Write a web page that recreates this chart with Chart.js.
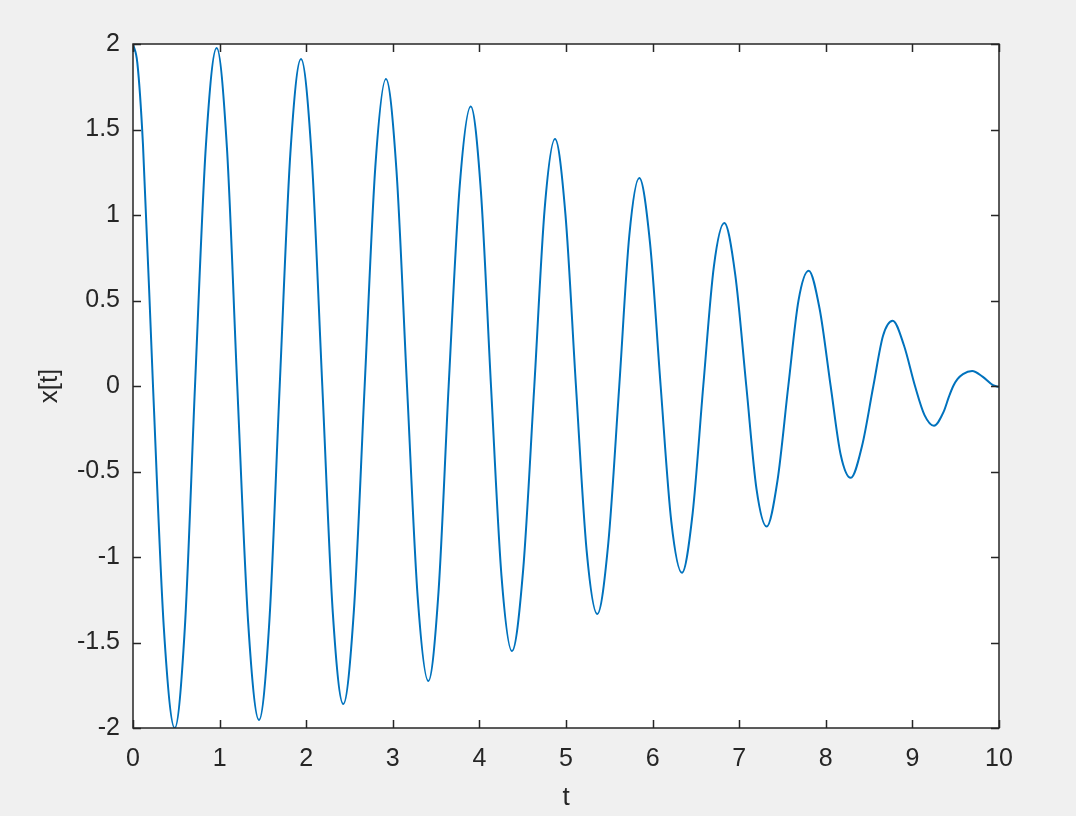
<!DOCTYPE html>
<html>
<head>
<meta charset="utf-8">
<script src="https://cdn.jsdelivr.net/npm/chart.js@4/dist/chart.umd.min.js"></script>
<style>
html,body{margin:0;padding:0;background:#f0f0f0;}
#wrap{width:1076px;height:816px;}
</style>
</head>
<body>
<div id="wrap"><canvas id="c" width="1076" height="816"></canvas></div>
<script>
// Values: extrema, zero crossings and shoulder points of x[t]
const tValues = [
  0, 0.05, 0.115, 0.231, 0.356, 0.482, 0.599, 0.716, 0.841, 0.966,
  1.085, 1.204, 1.330, 1.455, 1.575, 1.694, 1.817, 1.940, 2.063, 2.186,
  2.307, 2.428, 2.552, 2.675, 2.798, 2.921, 3.043, 3.164, 3.287, 3.410,
  3.528, 3.645, 3.773, 3.900, 4.017, 4.134, 4.255, 4.376, 4.505, 4.634,
  4.754, 4.873, 4.994, 5.115, 5.238, 5.361, 5.488, 5.615, 5.731, 5.846,
  5.970, 6.093, 6.216, 6.339, 6.462, 6.585, 6.707, 6.828, 6.955, 7.082,
  7.200, 7.317, 7.442, 7.567, 7.685, 7.802, 7.929, 8.056, 8.172, 8.288,
  8.419, 8.549, 8.661, 8.773, 8.902, 9.030, 9.140, 9.249, 9.361, 9.420,
  9.472, 9.520, 9.584, 9.690, 9.810, 9.930, 10
];
const xValues = [
  2, 1.89, 1.414, 0, -1.414, -2, -1.41, 0, 1.40, 1.977,
  1.39, 0, -1.385, -1.953, -1.373, 0, 1.359, 1.912, 1.342, 0,
  -1.324, -1.86, -1.303, 0, 1.280, 1.795, 1.256, 0, -1.232, -1.725,
  -1.203, 0, 1.172, 1.635, 1.141, 0, -1.110, -1.55, -1.077, 0,
  1.039, 1.444, 1.001, 0, -0.961, -1.333, -0.921, 0, 0.880, 1.216,
  0.837, 0, -0.793, -1.092, -0.746, 0, 0.697, 0.953, 0.649, 0,
  -0.603, -0.822, -0.553, 0, 0.501, 0.674, 0.450, 0, -0.402, -0.537,
  -0.349, 0, 0.294, 0.382, 0.238, 0, -0.17, -0.232, -0.15, -0.065,
  0, 0.04, 0.07, 0.088, 0.055, 0.005, -0.005
];

const xTickValues = [0, 1, 2, 3, 4, 5, 6, 7, 8, 9, 10];
const xTickLabels = ['0', '1', '2', '3', '4', '5', '6', '7', '8', '9', '10'];
const yTickValues = [-2, -1.5, -1, -0.5, 0, 0.5, 1, 1.5, 2];
const yTickLabels = ['-2', '-1.5', '-1', '-0.5', '0', '0.5', '1', '1.5', '2'];
const xAxisTitle = 't';
const yAxisTitle = 'x[t]';

const AXIS_COLOR = '#262626';
const LINE_COLOR = '#0072BD';
const FONT_FAMILY = '"Liberation Sans", Arial, Helvetica, sans-serif';

const boxPlugin = {
  id: 'boxPlugin',
  beforeDraw(chart) {
    const {ctx, chartArea: a} = chart;
    ctx.save();
    ctx.fillStyle = '#f0f0f0';
    ctx.fillRect(0, 0, chart.width, chart.height);
    ctx.fillStyle = '#ffffff';
    ctx.fillRect(a.left, a.top, a.right - a.left, a.bottom - a.top);
    ctx.restore();
  },
  afterDraw(chart) {
    const {ctx, chartArea: a, scales} = chart;
    const len = 8;
    ctx.save();
    ctx.strokeStyle = AXIS_COLOR;
    ctx.lineWidth = 1.5;
    ctx.beginPath();
    scales.x.ticks.forEach(t => {
      const px = Math.round(scales.x.getPixelForValue(t.value)) + 0.5;
      ctx.moveTo(px, a.bottom); ctx.lineTo(px, a.bottom - len);
      ctx.moveTo(px, a.top); ctx.lineTo(px, a.top + len);
    });
    scales.y.ticks.forEach(t => {
      const py = Math.round(scales.y.getPixelForValue(t.value)) + 0.5;
      ctx.moveTo(a.left, py); ctx.lineTo(a.left + len, py);
      ctx.moveTo(a.right, py); ctx.lineTo(a.right - len, py);
    });
    ctx.stroke();
    ctx.strokeRect(a.left, a.top, a.right - a.left, a.bottom - a.top);
    ctx.restore();
  }
};

new Chart(document.getElementById('c'), {
  type: 'line',
  data: {
    datasets: [{
      data: tValues.map((t, i) => ({x: t, y: xValues[i]})),
      borderColor: LINE_COLOR,
      borderWidth: 2,
      pointRadius: 0,
      fill: false,
      cubicInterpolationMode: 'monotone'
    }]
  },
  options: {
    responsive: false,
    animation: false,
    devicePixelRatio: 1,
    layout: {padding: {left: 0, right: 77, top: 44, bottom: 0}},
    plugins: {legend: {display: false}, tooltip: {enabled: false}},
    scales: {
      x: {
        type: 'linear',
        min: 0, max: 10,
        afterBuildTicks: s => { s.ticks = xTickValues.map(v => ({value: v})); },
        afterFit: s => { s.height = 88; },
        grid: {display: false, drawTicks: false},
        border: {display: false},
        ticks: {
          autoSkip: false, maxRotation: 0,
          padding: 16,
          color: AXIS_COLOR,
          font: {family: FONT_FAMILY, size: 25},
          callback: (v, i) => xTickLabels[i]
        },
        title: {
          display: true, text: xAxisTitle, color: AXIS_COLOR,
          font: {family: FONT_FAMILY, size: 26},
          padding: {top: 0, bottom: 3}
        }
      },
      y: {
        type: 'linear',
        min: -2, max: 2,
        afterBuildTicks: s => { s.ticks = yTickValues.map(v => ({value: v})); },
        afterFit: s => { s.width = 133; },
        grid: {display: false, drawTicks: false},
        border: {display: false},
        ticks: {
          autoSkip: false,
          padding: 13,
          color: AXIS_COLOR,
          font: {family: FONT_FAMILY, size: 25},
          callback: (v, i) => yTickLabels[i]
        },
        title: {
          display: true, text: yAxisTitle, color: AXIS_COLOR,
          font: {family: FONT_FAMILY, size: 26},
          padding: {top: 34, bottom: 0}
        }
      }
    }
  },
  plugins: [boxPlugin]
});
</script>
</body>
</html>
